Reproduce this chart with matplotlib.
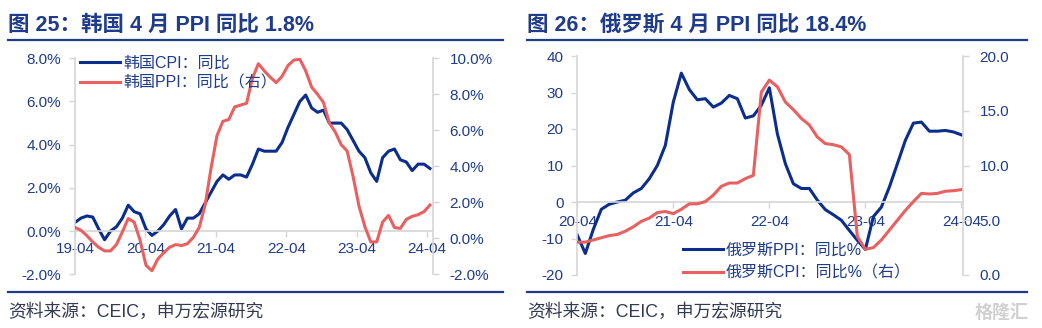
import matplotlib
matplotlib.use("Agg")
import matplotlib.pyplot as plt
from matplotlib.lines import Line2D
from matplotlib.font_manager import FontProperties
from matplotlib.ticker import FuncFormatter
import numpy as np

plt.rcParams['axes.unicode_minus'] = False
plt.rcParams['font.family'] = ['Liberation Sans', 'Noto Sans CJK SC', 'DejaVu Sans']

# ---------------- data ----------------
# Korea, monthly 2019-04 .. 2024-04
kr_cpi = [0.4, 0.6, 0.7, 0.65, 0.1, -0.4, 0.0, 0.2, 0.6, 1.2,
          0.9, 0.8, 0.1, -0.2, 0.0, 0.3, 0.7, 1.0, 0.1, 0.6,
          0.6, 0.8, 1.3, 1.8, 2.3, 2.6, 2.4, 2.6, 2.6, 2.5,
          3.1, 3.8, 3.7, 3.7, 3.7, 4.1, 4.8, 5.4, 6.0, 6.3,
          5.7, 5.5, 5.6, 5.0, 5.0, 5.0, 4.7, 4.2, 3.7, 3.4,
          2.7, 2.3, 3.4, 3.7, 3.8, 3.3, 3.2, 2.8, 3.1, 3.1, 2.9]
kr_ppi = [0.6, 0.45, 0.15, -0.2, -0.5, -0.7, -0.7, -0.35, 0.35, 1.1,
          0.9, -0.1, -1.5, -1.8, -1.15, -0.8, -0.5, -0.35, -0.4, -0.3,
          0.05, 0.6, 1.85, 3.9, 5.7, 6.5, 6.6, 7.3, 7.4, 7.5,
          8.9, 9.7, 9.3, 8.95, 8.65, 9.0, 9.6, 9.9, 9.95, 9.3,
          8.4, 8.0, 7.55, 6.4, 5.9, 5.2, 4.85, 3.45, 1.8, 0.65,
          -0.2, -0.2, 0.9, 1.27, 0.6, 0.55, 1.05, 1.22, 1.31, 1.48, 1.85]
kr_ticklabels = ['19-04', '20-04', '21-04', '22-04', '23-04', '24-04']

# Russia, monthly 2020-04 .. 2024-04
ru_ppi = [-9.1, -14.1, -7.5, -2.0, -0.6, 0.0, 0.5, 2.5, 3.7, 6.4,
          10.0, 15.5, 27.4, 35.3, 30.8, 28.0, 28.3, 26.0, 27.1, 29.2,
          28.3, 23.0, 23.6, 26.5, 31.3, 18.7, 10.5, 5.0, 3.7, 3.7,
          0.5, -2.1, -3.5, -5.0, -7.8, -10.5, -13.0, -4.0, -1.4, 4.1,
          10.5, 16.9, 21.6, 21.9, 19.4, 19.4, 19.6, 19.2, 18.4]
ru_cpi = [3.0, 3.0, 3.2, 3.4, 3.6, 3.7, 4.0, 4.4, 4.9, 5.2,
          5.7, 5.8, 5.6, 6.0, 6.5, 6.5, 6.7, 7.3, 8.1, 8.4,
          8.4, 8.8, 9.1, 16.7, 17.8, 17.2, 15.8, 15.1, 14.3, 13.7,
          12.6, 12.0, 11.9, 11.7, 11.0, 3.5, 2.35, 2.5, 3.2, 4.1,
          5.0, 5.9, 6.7, 7.45, 7.4, 7.45, 7.65, 7.7, 7.8]
ru_ticklabels = ['20-04', '21-04', '22-04', '23-04', '24-04']

# ---------------- style ----------------
W, H = 1042, 328
BLUE = '#0b2d8c'
RED = '#e8605f'
TXT = '#1f3c8c'
GRAY = '#d6d6d6'
SRC = '#333a50'
LATIN_CJK = ['Liberation Sans', 'Noto Sans CJK SC']

fig = plt.figure(figsize=(W / 100, H / 100), dpi=100)


def fx(x):
    return x / W


def fy(y):
    return 1 - y / H


def style_axes(ax, ax2, xpad):
    for s in ['top', 'right']:
        ax.spines[s].set_visible(False)
    ax.spines['left'].set_color(GRAY)
    ax.spines['left'].set_linewidth(1.2)
    ax.spines['bottom'].set_position(('data', 0))
    ax.spines['bottom'].set_color(GRAY)
    ax.spines['bottom'].set_linewidth(1.2)
    for s in ['top', 'left', 'bottom']:
        ax2.spines[s].set_visible(False)
    ax2.spines['right'].set_color(GRAY)
    ax2.spines['right'].set_linewidth(1.2)
    ax.tick_params(axis='y', direction='out', length=4, width=1, color=GRAY,
                   labelcolor=TXT, labelsize=11, pad=6)
    ax.tick_params(axis='x', direction='out', length=4, width=1, color=GRAY,
                   labelcolor=TXT, labelsize=11, pad=xpad)
    ax2.tick_params(axis='y', direction='out', length=4, width=1, color=GRAY,
                    labelcolor=TXT, labelsize=11, pad=8)
    ax.patch.set_alpha(0)
    ax2.patch.set_alpha(0)


def frame(x0, x1, title):
    fig.text(fx(x0), fy(25.5), title, fontsize=15.5, fontweight='bold', color=TXT,
             family=['Liberation Sans', 'Noto Sans CJK SC'], ha='left', va='center')
    fig.add_artist(Line2D([fx(x0), fx(x1)], [fy(40), fy(40)], color=TXT, lw=1.6))
    fig.add_artist(Line2D([fx(x0), fx(x1)], [fy(291.7), fy(291.7)], color=TXT, lw=1.6))
    fig.text(fx(x0), fy(312.5), '资料来源：CEIC，申万宏源研究', fontsize=12.8, color=SRC,
             family=LATIN_CJK, ha='left', va='center')


# ---------------- Korea ----------------
frame(8, 503, '图 25：韩国 4 月 PPI 同比 1.8%')
axk = fig.add_axes([fx(75), fy(274.3), (433 - 75) / W, (274.3 - 58.3) / H])
axk2 = axk.twinx()
xk = np.arange(len(kr_cpi)) * 1.008
l1, = axk.plot(xk, kr_cpi, color=BLUE, lw=2.2, label='韩国CPI：同比')
l2, = axk2.plot(xk, kr_ppi, color=RED, lw=2.2, label='韩国PPI：同比（右）')
axk.set_xlim(0, 61.0)
axk.set_ylim(-2, 8)
axk2.set_ylim(-2, 10)
axk.set_xticks(np.arange(len(kr_ticklabels)) * 12)
axk.set_xticklabels(kr_ticklabels)
axk.set_yticks(np.arange(-2, 8.1, 2))
axk2.set_yticks(np.arange(-2, 10.1, 2))
axk.yaxis.set_major_formatter(FuncFormatter(lambda v, p: f'{v:.1f}%'))
axk2.yaxis.set_major_formatter(FuncFormatter(lambda v, p: f'{v:.1f}%'))
style_axes(axk, axk2, 4)
axk2.legend(handles=[l1, l2], loc='upper left', bbox_to_anchor=(fx(80), fy(56)),
            bbox_transform=fig.transFigure, frameon=False, borderpad=0, borderaxespad=0,
            handlelength=2.5, handletextpad=0.2, labelspacing=0.25,
            prop=FontProperties(family=LATIN_CJK, size=11.5), labelcolor=TXT)

# ---------------- Russia ----------------
frame(527, 1027, '图 26：俄罗斯 4 月 PPI 同比 18.4%')
axr = fig.add_axes([fx(577.3), fy(275), (963 - 577.3) / W, (275 - 56) / H])
axr2 = axr.twinx()
xr = np.arange(len(ru_ppi))
r1, = axr.plot(xr, ru_ppi, color=BLUE, lw=2.2, label='俄罗斯PPI：同比%')
r2, = axr2.plot(xr, ru_cpi, color=RED, lw=2.2, label='俄罗斯CPI：同比%（右）')
axr.set_xlim(0, 48.2)
axr.set_ylim(-20, 40)
axr2.set_ylim(0, 20)
axr.set_xticks(np.arange(len(ru_ticklabels)) * 12)
axr.set_xticklabels(ru_ticklabels)
axr.set_yticks(np.arange(-20, 41, 10))
axr2.set_yticks(np.arange(0, 20.1, 5))
axr.yaxis.set_major_formatter(FuncFormatter(lambda v, p: f'{v:.0f}'))
axr2.yaxis.set_major_formatter(FuncFormatter(lambda v, p: f'{v:.1f}'))
style_axes(axr, axr2, 5)
axr2.legend(handles=[r1, r2], loc='upper left', bbox_to_anchor=(fx(683), fy(243)),
            bbox_transform=fig.transFigure, frameon=False, borderpad=0, borderaxespad=0,
            handlelength=2.5, handletextpad=0.2, labelspacing=0.45,
            prop=FontProperties(family=LATIN_CJK, size=11.5), labelcolor=TXT)

# watermark
fig.text(fx(1002), fy(312), '格隆汇', fontsize=13, color='#d0d0d0', fontweight='bold',
         family=['Noto Sans CJK SC'], ha='center', va='center')

fig.savefig('out.png', dpi=100)
